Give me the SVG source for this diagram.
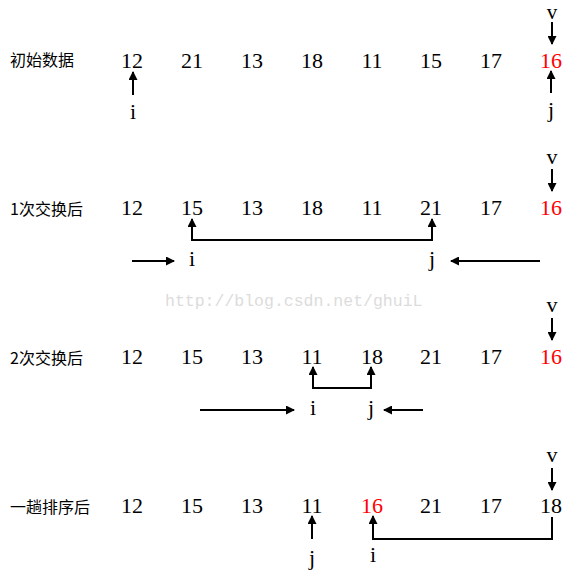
<svg xmlns="http://www.w3.org/2000/svg" width="571" height="580" viewBox="0 0 571 580">
<style>
.num{font-family:'Liberation Serif','DejaVu Serif',serif;font-size:22px;fill:#000;text-anchor:middle}
.red{fill:#ff0000}
.lbl{font-family:'Noto Sans CJK SC','Liberation Sans',sans-serif;font-size:16px;fill:#000}
.ptr{font-family:'Liberation Serif','DejaVu Serif',serif;font-size:22px;fill:#000;text-anchor:middle}
.top{font-size:21px}
.ln{stroke:#000;stroke-width:2;fill:none}
.arr{stroke:#000;stroke-width:2;fill:none;marker-end:url(#ah)}
.wm{font-family:'Liberation Mono','DejaVu Sans Mono',monospace;font-size:16.5px;fill:#dcdcdc}
</style>
<defs>
<marker id="ah" markerUnits="userSpaceOnUse" markerWidth="9" markerHeight="9" refX="8" refY="4.5" orient="auto">
<path d="M0,0 L9,4.5 L0,9 z" fill="#000"/>
</marker>
</defs>
<rect width="571" height="580" fill="#fff"/>
<text class="wm" x="165" y="306">http://blog.csdn.net/ghuiL</text>

<g id="row1">
<text class="lbl" x="10" y="66">初始数据</text>
<text class="num" x="132" y="68">12</text>
<text class="num" x="192" y="68">21</text>
<text class="num" x="252" y="68">13</text>
<text class="num" x="312" y="68">18</text>
<text class="num" x="372" y="68">11</text>
<text class="num" x="431" y="68">15</text>
<text class="num" x="491" y="68">17</text>
<text class="num red" x="551" y="68">16</text>
<text class="ptr top" x="552" y="19">v</text>
<text class="ptr" x="133" y="119">i</text>
<text class="ptr" x="551" y="117">j</text>
</g>

<g id="row2">
<text class="lbl" x="10" y="215">1次交换后</text>
<text class="num" x="132" y="215">12</text>
<text class="num" x="192" y="215">15</text>
<text class="num" x="252" y="215">13</text>
<text class="num" x="312" y="215">18</text>
<text class="num" x="372" y="215">11</text>
<text class="num" x="431" y="215">21</text>
<text class="num" x="491" y="215">17</text>
<text class="num red" x="551" y="215">16</text>
<text class="ptr" x="552" y="164">v</text>
<text class="ptr" x="192" y="266">i</text>
<text class="ptr" x="432" y="266">j</text>
</g>

<g id="row3">
<text class="lbl" x="10" y="364">2次交换后</text>
<text class="num" x="132" y="364">12</text>
<text class="num" x="192" y="364">15</text>
<text class="num" x="252" y="364">13</text>
<text class="num" x="312" y="364">11</text>
<text class="num" x="372" y="364">18</text>
<text class="num" x="431" y="364">21</text>
<text class="num" x="491" y="364">17</text>
<text class="num red" x="551" y="364">16</text>
<text class="ptr" x="552" y="312">v</text>
<text class="ptr" x="313" y="415">i</text>
<text class="ptr" x="371" y="415">j</text>
</g>

<g id="row4">
<text class="lbl" x="10" y="513">一趟排序后</text>
<text class="num" x="132" y="513">12</text>
<text class="num" x="192" y="513">15</text>
<text class="num" x="252" y="513">13</text>
<text class="num" x="312" y="513">11</text>
<text class="num red" x="372" y="513">16</text>
<text class="num" x="431" y="513">21</text>
<text class="num" x="491" y="513">17</text>
<text class="num" x="551" y="513">18</text>
<text class="ptr" x="552" y="462">v</text>
<text class="ptr" x="312" y="565">j</text>
<text class="ptr" x="373" y="562">i</text>
</g>

<g id="connectors">
<line class="arr" x1="552" y1="22" x2="552" y2="44"/>
<line class="arr" x1="133" y1="95" x2="133" y2="72"/>
<line class="arr" x1="551" y1="93" x2="551" y2="71"/>
<line class="arr" x1="552" y1="169" x2="552" y2="191"/>
<path class="ln" d="M192,240 L432,240"/>
<line class="arr" x1="192" y1="241" x2="192" y2="219"/>
<line class="arr" x1="432" y1="241" x2="432" y2="219"/>
<line class="arr" x1="132" y1="261" x2="174" y2="261"/>
<line class="arr" x1="540" y1="261" x2="451" y2="261"/>
<line class="arr" x1="552" y1="318" x2="552" y2="340"/>
<path class="ln" d="M313,388 L371,388"/>
<line class="arr" x1="313" y1="389" x2="313" y2="367"/>
<line class="arr" x1="371" y1="389" x2="371" y2="367"/>
<line class="arr" x1="200" y1="410" x2="294" y2="410"/>
<line class="arr" x1="423" y1="410" x2="384" y2="410"/>
<line class="arr" x1="552" y1="468" x2="552" y2="490"/>
<line class="arr" x1="312" y1="539" x2="312" y2="516"/>
<path class="ln" d="M373,539 L552,539 L552,517"/>
<line class="arr" x1="373" y1="540" x2="373" y2="516"/>
</g>
</svg>
